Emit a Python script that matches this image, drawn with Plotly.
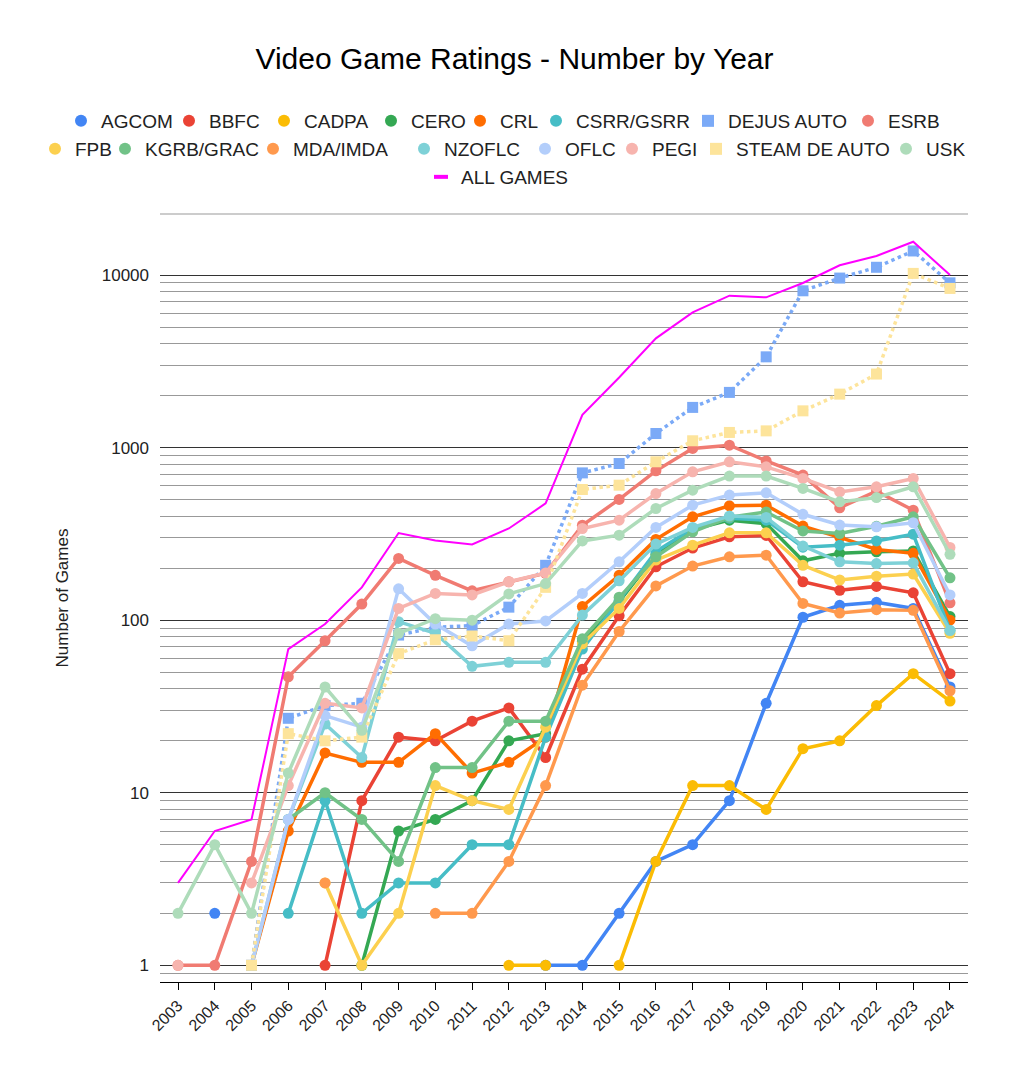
import math
import plotly.graph_objects as go

N = None
years = list(range(2003, 2025))

agcom = [N, 2, N, N, N, N, N, N, N, N, 1, 1, 2, 4, 5, 9, 33, 104, 122, 127, 117, 41]
bbfc = [N, N, N, N, 1, 9, 21, 20, 26, 31, 16, 52, 106, 204, 262, 304, 310, 167, 149, 157, 144, 49]
cadpa = [N, N, N, N, N, N, N, N, N, 1, 1, N, 1, 4, 11, 11, 8, 18, 20, 32, 49, 34]
cero = [N, N, N, N, N, 1, 6, 7, 9, 20, 22, 75, 128, 240, 335, 380, 363, 221, 244, 249, 252, 105]
crl = [N, N, 1, 6, 17, 15, 15, 22, 13, 15, 21, 120, 182, 294, 397, 460, 464, 351, 302, 257, 244, 100]
csrr = [N, N, N, 2, 9, 2, 3, 3, 5, 5, 21, 68, 130, 250, 340, 390, 380, 265, 272, 288, 315, 87]
dejus = [N, N, 1, 27, 32, 33, 82, 91, 93, 119, 208, 714, 809, 1208, 1711, 2090, 3360, 8110, 9610, 11100, 13800, 9020]
esrb = [1, 1, 4, 47, 76, 124, 228, 182, 148, 167, 187, 355, 501, 734, 989, 1033, 838, 693, 448, 560, 434, 126]
fpb = [N, N, N, N, 3, 1, 2, 11, 9, 8, 24, 73, 117, 223, 272, 321, 321, 208, 171, 180, 185, 84]
kgrb = [N, N, N, 7, 10, 7, 4, 14, 14, 26, 26, 78, 136, 233, 325, 395, 424, 329, 318, 350, 397, 176]
mda = [N, N, N, N, 3, N, N, 2, 2, 4, 11, 42, 86, 158, 206, 233, 238, 125, 110, 115, 114, 39]
nzoflc = [N, N, 1, 7, 25, 16, 98, 84, 54, 57, 57, 107, 169, 276, 345, 401, 394, 269, 218, 213, 215, 87]
oflc = [N, N, 1, 7, 28, 24, 152, 95, 71, 95, 99, 143, 218, 345, 464, 531, 547, 411, 356, 348, 367, 140]
pegi = [1, N, 3, 11, 33, 31, 117, 143, 140, 167, 188, 340, 380, 542, 724, 828, 774, 663, 554, 593, 663, 264]
steam = [N, N, 1, 22, 20, 21, 64, 77, 81, 76, 155, 572, 606, 828, 1096, 1225, 1251, 1634, 2043, 2670, 10230, 8370]
usk = [2, 5, 2, 13, 41, 23, 84, 102, 100, 142, 163, 288, 311, 444, 567, 684, 684, 580, 485, 514, 593, 241]
all_games = [3, 6, 7, 68, 95, 155, 320, 290, 275, 340, 475, 1550, 2550, 4300, 6080, 7600, 7430, 9000, 11400, 12900, 15600, 10000]

series = [
    ("AGCOM", agcom, "#4285F4", "circle", "solid"),
    ("BBFC", bbfc, "#EA4335", "circle", "solid"),
    ("CADPA", cadpa, "#FBBC04", "circle", "solid"),
    ("CERO", cero, "#34A853", "circle", "solid"),
    ("CRL", crl, "#FF6D01", "circle", "solid"),
    ("CSRR/GSRR", csrr, "#46BDC6", "circle", "solid"),
    ("DEJUS AUTO", dejus, "#7BAAF7", "square", "dot"),
    ("ESRB", esrb, "#F07B72", "circle", "solid"),
    ("FPB", fpb, "#FCD04F", "circle", "solid"),
    ("KGRB/GRAC", kgrb, "#71C287", "circle", "solid"),
    ("MDA/IMDA", mda, "#FF994D", "circle", "solid"),
    ("NZOFLC", nzoflc, "#7ED1D7", "circle", "solid"),
    ("OFLC", oflc, "#B3CEFB", "circle", "solid"),
    ("PEGI", pegi, "#F7B4AE", "circle", "solid"),
    ("STEAM DE AUTO", steam, "#FDE49B", "square", "dot"),
    ("USK", usk, "#AEDCBA", "circle", "solid"),
]

# legend entry text start (x) and row centre (y), in page pixels
legend_pos = {
    "AGCOM": (103, 121), "BBFC": (211, 121), "CADPA": (306, 121), "CERO": (413, 121),
    "CRL": (502, 121), "CSRR/GSRR": (578, 121), "DEJUS AUTO": (730, 121), "ESRB": (890, 121),
    "FPB": (77, 149), "KGRB/GRAC": (147, 149), "MDA/IMDA": (295, 149), "NZOFLC": (446, 149),
    "OFLC": (567, 149), "PEGI": (654, 149), "STEAM DE AUTO": (738, 149), "USK": (928, 149),
    "ALL GAMES": (463, 177),
}

FONT = "Arial, Liberation Sans, sans-serif"
W, H = 1013, 1078
OFF = 8  # page body margin

fig = go.Figure()

for name, vals, color, sym, dash in series:
    fig.add_trace(go.Scatter(
        x=years, y=vals, name=name, mode="lines+markers",
        line=dict(color=color, width=3.5, dash=dash),
        marker=dict(color=color, size=11, symbol=sym),
        showlegend=False, connectgaps=False,
    ))

fig.add_trace(go.Scatter(
    x=years, y=all_games, name="ALL GAMES", mode="lines",
    line=dict(color="#FF00FF", width=2), showlegend=False,
))

legend_layouts = {}


def legend_cfg(name):
    tx, ty = legend_pos[name]
    return dict(orientation="h", xref="container", yref="container",
                x=(tx - OFF - 42) / W, xanchor="left",
                y=1 - (ty - OFF) / H, yanchor="middle",
                font=dict(family=FONT, size=19, color="#222"),
                bgcolor="rgba(0,0,0,0)", itemwidth=30)


for i, (name, vals, color, sym, dash) in enumerate(series):
    key = "legend" if i == 0 else f"legend{i + 1}"
    legend_layouts[key] = legend_cfg(name)
    fig.add_trace(go.Scatter(
        x=[None], y=[None], name=name, mode="markers",
        marker=dict(color=color, size=12, symbol=sym),
        legend=key, showlegend=True,
    ))

key = f"legend{len(series) + 1}"
legend_layouts[key] = legend_cfg("ALL GAMES")
fig.add_trace(go.Scatter(
    x=[None], y=[None], name="ALL GAMES", mode="markers",
    marker=dict(symbol="line-ew", size=10, color="#FF00FF",
                line=dict(color="#FF00FF", width=4)),
    legend=key, showlegend=True,
))

major = [1, 10, 100, 1000, 10000]
minor = [0.9] + [d * 10 ** k for k in range(0, 4) for d in range(2, 10)]

fig.update_layout(
    width=W, height=H,
    margin=dict(l=160 - OFF, r=W - (968 - OFF), t=214 - OFF, b=H - (982 - OFF)),
    paper_bgcolor="white", plot_bgcolor="white",
    font=dict(family=FONT, color="#222"),
    title=dict(text="Video Game Ratings - Number by Year", x=0.5, xanchor="center",
               xref="container", yref="container", y=1 - (58 - OFF) / H, yanchor="middle",
               font=dict(family=FONT, size=30, color="#000")),
    xaxis=dict(
        range=[2002.51, 2024.49], tickmode="array", tickvals=years,
        ticktext=[str(y) for y in years], tickangle=-45,
        showgrid=False, zeroline=False, showline=True, linecolor="#000", linewidth=1,
        ticks="outside", ticklen=7, tickcolor="#000",
        tickfont=dict(family=FONT, size=16, color="#222"),
    ),
    yaxis=dict(
        type="log", range=[math.log10(0.8), math.log10(22600)],
        tickmode="array", tickvals=major, ticktext=[str(v) for v in major],
        showgrid=True, gridcolor="#333", gridwidth=1, zeroline=False,
        showline=False, ticks="", ticklabelstandoff=10,
        tickfont=dict(family=FONT, size=17, color="#222"),
        minor=dict(tickmode="array", tickvals=minor, showgrid=True,
                   gridcolor="#999", gridwidth=1, ticks=""),
        title=dict(text="Number of Games", standoff=28,
                   font=dict(family=FONT, size=17, color="#222")),
    ),
    shapes=[dict(type="line", xref="paper", yref="paper", x0=0, x1=1, y0=1, y1=1,
                 line=dict(color="#999", width=1), layer="below")],
    **legend_layouts,
)

fig.write_html("out.html")
